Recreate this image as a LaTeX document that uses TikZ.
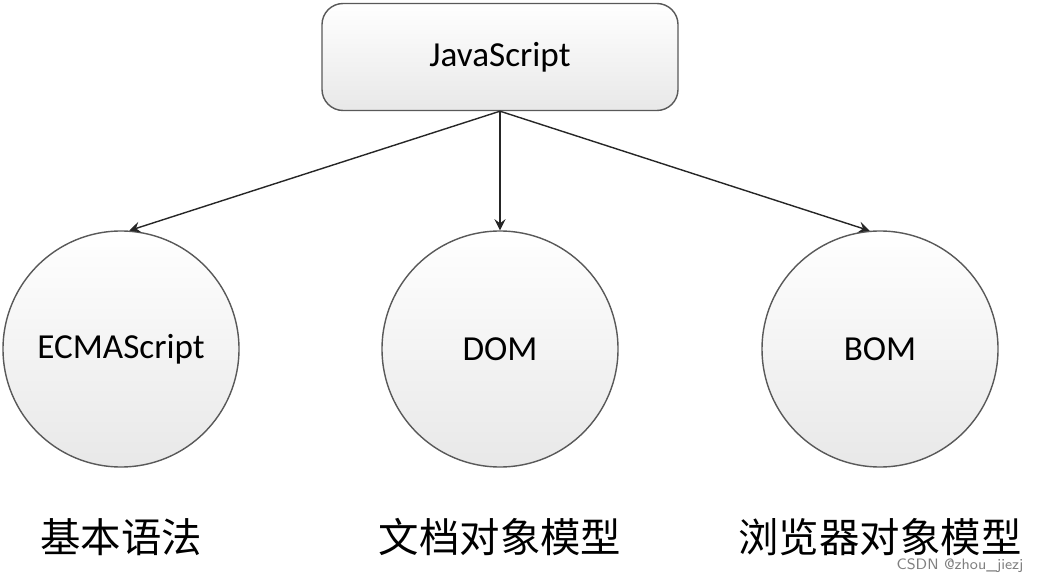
\documentclass[tikz,border=0pt]{standalone}
\usepackage{fontspec}
\setmainfont{Carlito}
\newfontfamily\cjk{Noto Sans CJK SC}
\usetikzlibrary{positioning}
\tikzset{
  topbox/.style={draw=gray!70!black, rounded corners=6pt, minimum width=3.56cm, minimum height=1.07cm,
    top color=white, bottom color=gray!18, font=\fontsize{10}{12}\selectfont},
  part/.style={circle, draw=gray!70!black, minimum size=2.36cm, inner sep=0pt,
    top color=white, bottom color=gray!18, font=\fontsize{10}{12}\selectfont},
  cnlabel/.style={font=\cjk\fontsize{11.5}{13}\selectfont},
  link/.style={->, >=stealth, draw=gray!30!black}
}
\begin{document}
\begin{tikzpicture}
\useasboundingbox (0,0) rectangle (10.43,5.83);
\node[topbox] (js) at (5.00,5.26) {JavaScript};
\node[part] (ecma) at (1.21,2.34) {ECMAScript};
\node[part] (dom) at (5.00,2.34) {DOM};
\node[part] (bom) at (8.80,2.34) {BOM};
% arrows
\draw[link] (js.south) -- (ecma.86);
\draw[link] (js.south) -- (dom.north);
\draw[link] (js.south) -- (bom.95);
% labels
\node[cnlabel] (n1) at (1.21,0.46) {基本语法};
\node[cnlabel] (n2) at (5.00,0.46) {文档对象模型};
\node[cnlabel] (n3) at (8.80,0.46) {浏览器对象模型};
\node[font=\fontsize{4.3}{5}\selectfont\sffamily, text=gray] (wm) at (9.60,0.17) {CSDN @zhou\_jiezj};
\end{tikzpicture}
\end{document}
